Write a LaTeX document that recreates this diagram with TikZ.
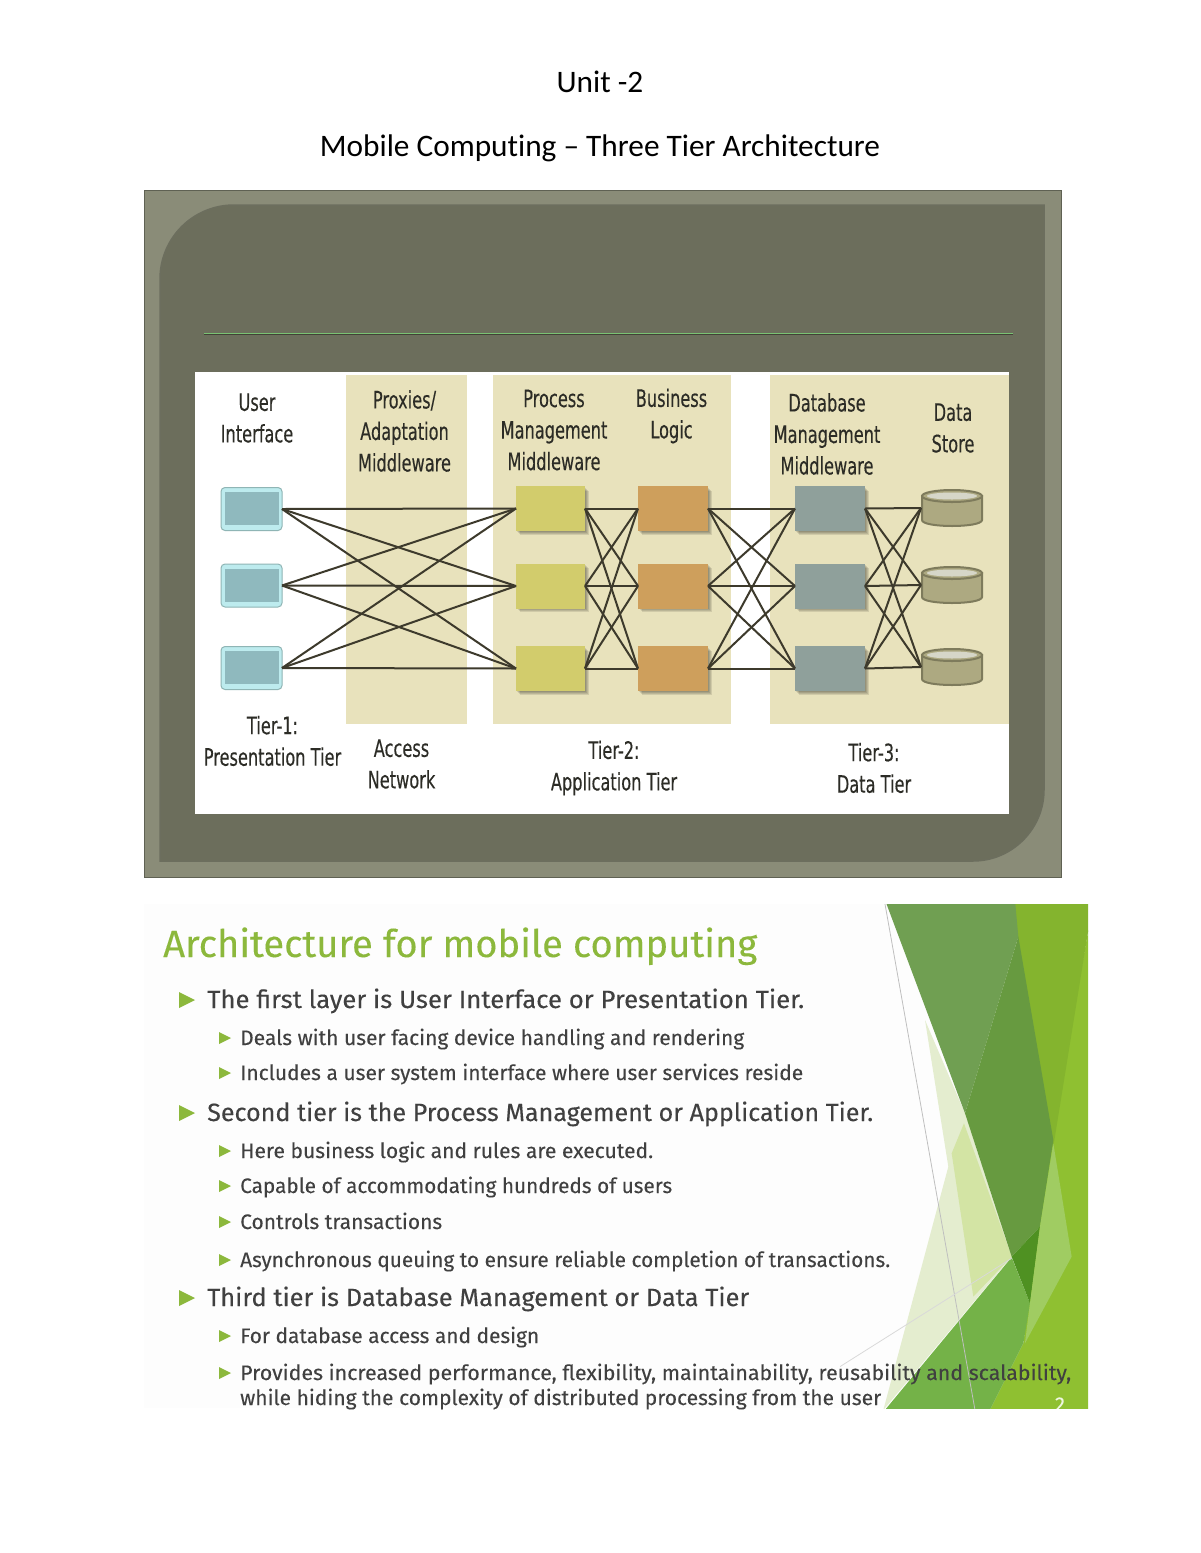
\documentclass[tikz,border=0pt]{standalone}
\usepackage{fontspec}
\setmainfont[Ligatures=NoCommon]{Carlito}
\newfontfamily\dia[FakeStretch=0.675,FakeBold=0.2]{DejaVu Sans}
\newfontfamily\slidefont[FakeBold=0.15]{Fira Sans}
\definecolor{frameout}{HTML}{8A8C78}
\definecolor{frameedge}{HTML}{5F6153}
\definecolor{frameinner}{HTML}{6C6E5C}
\definecolor{beige}{HTML}{E8E2BC}
\definecolor{conncol}{HTML}{3D3A2C}
\definecolor{uifill}{HTML}{8FB9BE}
\definecolor{uiedge}{HTML}{BDEBEE}
\definecolor{uirim}{HTML}{8FB5B5}
\definecolor{procfill}{HTML}{D2CC6C}
\definecolor{bizfill}{HTML}{CE9F5C}
\definecolor{dbfill}{HTML}{8FA09B}
\definecolor{cylfill}{HTML}{ADA981}
\definecolor{cyledge}{HTML}{7E7B5C}
\definecolor{cyltop}{HTML}{D6D6C8}
\definecolor{diatext}{HTML}{2C2C26}
\definecolor{slidegreen}{HTML}{8CB83C}
\definecolor{slidetext}{HTML}{404040}
\definecolor{slidebg}{HTML}{FDFDFD}
\definecolor{gA}{HTML}{84B42E}
\definecolor{gB}{HTML}{8FC031}
\definecolor{gC}{HTML}{709F52}
\definecolor{gD}{HTML}{679A40}
\definecolor{gE}{HTML}{4F9122}
\definecolor{gF}{HTML}{E4EDCF}
\definecolor{gG}{HTML}{D3E4A4}
\definecolor{gH}{HTML}{74B248}
\definecolor{gI}{HTML}{A0CC62}
\tikzset{
  x=1pt,y=-1pt,
  box/.style={minimum width=#1,minimum height=45pt,inner sep=0,outer sep=0},
  proc/.style={box=69pt,fill=procfill},
  biz/.style={box=70pt,fill=bizfill},
  db/.style={box=70pt,fill=dbfill},
  ui/.style={minimum width=61pt,minimum height=43pt,inner sep=0,outer sep=0,rounded corners=4pt,fill=uiedge,draw=uirim,line width=1pt},
  cyl/.style={minimum width=62pt,minimum height=38pt,inner sep=0,outer sep=0},
  conn/.style={draw=conncol,line width=2pt},
  lab/.style={font=\dia\fontsize{24}{31.5}\selectfont,text=diatext,align=center,inner sep=0},
  band/.style={fill=beige,draw=none},
  shade/.style={fill=black,opacity=.1,draw=none},
  head/.style={font=\fontsize{31.3}{36}\selectfont,text=black,inner sep=0},
  levA/.style={anchor=base west,inner sep=0,text=slidetext,font=\slidefont\fontsize{25}{28}\selectfont},
  levB/.style={anchor=base west,inner sep=0,text=slidetext,font=\slidefont\fontsize{21}{24}\selectfont},
  bull/.style={fill=slidegreen,draw=none},
  thin line/.style={draw=#1,line width=.8pt},
}
\newcommand{\slideA}[4]{%
  \fill[bull] (179,#2-8) -- (195,#2) -- (179,#2+8) -- cycle;
  \node[levA] (#1) at (207,#2+8) {\resizebox{#3pt}{\height}{#4}};}
\newcommand{\slideB}[4]{%
  \fill[bull] (219,#2-6) -- (231,#2) -- (219,#2+6) -- cycle;
  \node[levB] (#1) at (240,#2+7) {\resizebox{#3pt}{\height}{#4}};}
\newcommand{\uibox}[2]{%
  \node[ui] (#1) at (251.5,#2) {};
  \fill[uifill] (224.5,#2-17) rectangle (279,#2+16);}
\newcommand{\dbcyl}[3]{%
  \node[cyl] (#1) at (#2,#3) {};
  \begin{scope}[shift={(#2,#3)}]
    \fill[cylfill,draw=cyledge,line width=2pt] (-30,-12) -- (-30,12) .. controls (-30,20) and (30,20) .. (30,12) -- (30,-12) -- cycle;
    \fill[cylfill,draw=cyledge,line width=2pt] (0,-12) ellipse[x radius=30,y radius=6];
    \fill[cyltop] (0,-12) ellipse[x radius=25,y radius=3.5];
  \end{scope}}
\begin{document}
\begin{tikzpicture}
\useasboundingbox (0,0) rectangle (1200,1553);
\fill[white] (0,0) rectangle (1200,1553);
\node[head] (unit) at (600,82) {Unit -2};
\node[head] (title) at (600,148) {Mobile Computing – Three Tier Architecture};
% frame
\fill[frameout,draw=frameedge,line width=1pt] (144,190) rectangle (1061,877);
\fill[frameinner,draw=frameedge!70!frameout,line width=1.5pt] (234,205) -- (1044,205) -- (1044,790)
  .. controls (1044,829) and (1012,861) .. (973,861) -- (160,861) -- (160,279)
  .. controls (160,238) and (193,205) .. (234,205) -- cycle;
\draw[draw=frameinner!60!black,line width=1pt] (204,334) -- (1013,334);
\draw[draw=frameinner!60!green!70!white,line width=.7pt] (204,333) -- (1013,333);
% panel
\fill[white] (195,372) rectangle (1009,814);
\fill[band] (346,375) rectangle (467,724);
\fill[band] (493,375) rectangle (731,724);
\fill[band] (770,375) rectangle (1009,724);
% shadows
\foreach \yy in {508.5,586,668.5}{
  \foreach \d in {1,2,3,4}{
    \fill[shade] (516+\d,\yy-22+\d) rectangle (585+\d,\yy+22+\d);
    \fill[shade] (638+\d,\yy-22+\d) rectangle (708+\d,\yy+22+\d);
    \fill[shade] (795+\d,\yy-22+\d) rectangle (865+\d,\yy+22+\d);
  }
}
% boxes
\uibox{u1}{509}
\uibox{u2}{585.5}
\uibox{u3}{668}
\node[proc] (p1) at (550.5,508.5) {};
\node[proc] (p2) at (550.5,586) {};
\node[proc] (p3) at (550.5,668.5) {};
\node[biz] (b1) at (673,508.5) {};
\node[biz] (b2) at (673,586) {};
\node[biz] (b3) at (673,668.5) {};
\node[db] (m1) at (830,508.5) {};
\node[db] (m2) at (830,586) {};
\node[db] (m3) at (830,668.5) {};
\dbcyl{d1}{952}{508}
\dbcyl{d2}{952}{585}
\dbcyl{d3}{952}{667}
% connectors
\foreach \a in {1,2,3}{\foreach \b in {1,2,3}{
  \draw[conn] (u\a.east) -- (p\b.west);
  \draw[conn] (p\a.east) -- (b\b.west);
  \draw[conn] (b\a.east) -- (m\b.west);
  \draw[conn] (m\a.east) -- (d\b.west);
}}
% diagram labels
\node[lab] (lu) at (257,418) {User\\Interface};
\node[lab] (lp) at (404.5,431) {Proxies/\\Adaptation\\Middleware};
\node[lab] (lm) at (554,430) {Process\\Management\\Middleware};
\node[lab] (lb) at (671.5,416) {Business\\Logic};
\node[lab] (ld) at (827,434) {Database\\Management\\Middleware};
\node[lab] (ls) at (953,428) {Data\\Store};
\node[lab] (l1) at (272.5,741) {Tier-1:\\Presentation Tier};
\node[lab] (la) at (401.5,764) {Access\\Network};
\node[lab] (l2) at (614,768) {Tier-2:\\Application Tier};
\node[lab] (l3) at (874,768) {Tier-3:\\Data Tier};
% slide
\fill[slidebg] (144,904) rectangle (1088,1408);
\begin{scope}
\clip (840,904) rectangle (1088,1408);
\begin{scope}[shift={(840,900)},x=.3333pt,y=-.3333pt]
  \fill[gB] (745,90) -- (745,1530) -- (450,1530) -- (550,1330) -- (630,740) -- cycle;
  \fill[gA] (520,0) -- (745,0) -- (745,90) -- (640,740) -- (600,740) -- cycle;
  \fill[gF] (255,360) -- (375,640) -- (515,1070) -- (130,1530) -- (325,800) -- cycle;
  \fill[gG] (335,760) -- (372,670) -- (515,1070) -- (400,1190) -- cycle;
  \fill[gC] (135,0) -- (525,0) -- (535,110) -- (375,640) -- cycle;
  \fill[gD] (535,110) -- (640,720) -- (600,980) -- (515,1070) -- (375,640) -- cycle;
  \fill[gH] (515,1072) -- (135,1530) -- (450,1530) -- (550,1330) -- (570,1210) -- cycle;
  \fill[gE] (600,980) -- (515,1070) -- (570,1210) -- cycle;
  \fill[gI] (640,730) -- (695,1070) -- (555,1330) -- (570,1210) -- (600,980) -- cycle;
  \draw[thin line=black!25] (135,12) -- (405,1530);
  \draw[thin line=black!15] (0,1400) -- (515,1075);
\end{scope}
\end{scope}
\node[font=\slidefont\fontsize{38}{44}\selectfont,text=slidegreen,anchor=base west,inner sep=0] (h) at (163,957) {\resizebox{594pt}{\height}{Architecture for mobile computing}};
\slideA{a1}{1000}{597}{The first layer is User Interface or Presentation Tier.}
\slideB{a2}{1038}{504}{Deals with user facing device handling and rendering}
\slideB{a3}{1073}{563}{Includes a user system interface where user services reside}
\slideA{a4}{1113}{666}{Second tier is the Process Management or Application Tier.}
\slideB{a5}{1151}{413}{Here business logic and rules are executed.}
\slideB{a6}{1186}{432}{Capable of accommodating hundreds of users}
\slideB{a7}{1222}{202}{Controls transactions}
\slideB{a8}{1260}{650}{Asynchronous queuing to ensure reliable completion of transactions.}
\slideA{a9}{1298}{542}{Third tier is Database Management or Data Tier}
\slideB{a10}{1336}{299}{For database access and design}
\slideB{a11}{1373}{831}{Provides increased performance, flexibility, maintainability, reusability and scalability,}
\node[levB] (a12) at (240,1405) {\resizebox{641pt}{\height}{while hiding the complexity of distributed processing from the user}};
\begin{scope}
\clip (1040,1380) rectangle (1088,1408);
\node[font=\slidefont\fontsize{20}{24}\selectfont,text=white!85!gB,anchor=base,inner sep=0] (pg) at (1060,1411) {2};
\end{scope}
\end{tikzpicture}
\end{document}
